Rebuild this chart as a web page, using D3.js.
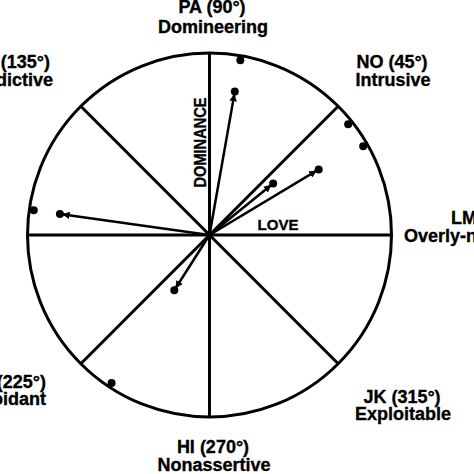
<!DOCTYPE html>
<html>
<head>
<meta charset="utf-8">
<script src="https://cdn.jsdelivr.net/npm/d3@7"></script>
<style>
  html, body { margin: 0; padding: 0; background: #fff; }
  svg { display: block; }
  text { font-family: "Liberation Sans", Arial, sans-serif; font-weight: bold; fill: #000; stroke: #000; stroke-width: 0.35px; }
</style>
</head>
<body>
<svg id="chart" width="474" height="474"></svg>
<script>
// ---- data ----
const octantCodes  = ["LM", "NO", "PA", "BC", "FG", "HI", "JK"];
const octantAngles = [0, 45, 90, 135, 225, 270, 315];
const octantNames  = ["Overly-nurturant", "Intrusive", "Domineering", "Vindictive", "Socially avoidant", "Nonassertive", "Exploitable"];

const divisionAngles = [0, 45, 90, 135, 180, 225, 270, 315];

// profile vectors (angle in degrees, amplitude as share of circle radius)
const vectorAngles     = [80, 31, 39, 172, 237.5];
const vectorAmplitudes = [0.80, 0.70, 0.45, 0.83, 0.36];
// projected angles shown on the rim
const rimAngles = [80, 30, 38.6, 172, 236.5];
const rimAmplitude = 0.975;

const axisLabels = ["DOMINANCE", "LOVE"];

// ---- layout ----
const svg = d3.select("#chart");
const cx = 209.5, cy = 235, R = 182;
const r = d3.scaleLinear().domain([0, 1]).range([0, R]);
const rad = d3.scaleLinear().domain([0, 360]).range([0, 2 * Math.PI]);
const px = (a, v) => cx + r(v) * Math.cos(rad(a));
const py = (a, v) => cy - r(v) * Math.sin(rad(a));

const defs = svg.append("defs");
defs.append("marker")
  .attr("id", "arrow")
  .attr("viewBox", "0 -5 10 10")
  .attr("refX", 13).attr("refY", 0)
  .attr("markerWidth", 3).attr("markerHeight", 3)
  .attr("markerUnits", "strokeWidth")
  .attr("orient", "auto")
  .append("path").attr("d", "M0,-5L10,0L0,5Z").attr("fill", "#000");

const g = svg.append("g");

// circle
g.append("circle").attr("cx", cx).attr("cy", cy).attr("r", r(1))
  .attr("fill", "none").attr("stroke", "#000").attr("stroke-width", 3);

// division lines
g.selectAll("line.div").data(divisionAngles).join("line")
  .attr("class", "div")
  .attr("x1", cx).attr("y1", cy)
  .attr("x2", d => px(d, 1)).attr("y2", d => py(d, 1))
  .attr("stroke", "#000").attr("stroke-width", 3);

// vectors
const vecs = vectorAngles.map((a, i) => ({ a, v: vectorAmplitudes[i] }));
g.selectAll("line.vec").data(vecs).join("line")
  .attr("class", "vec")
  .attr("x1", cx).attr("y1", cy)
  .attr("x2", d => px(d.a, d.v)).attr("y2", d => py(d.a, d.v))
  .attr("stroke", "#000").attr("stroke-width", 2.5)
  .attr("marker-end", "url(#arrow)");
g.selectAll("circle.tip").data(vecs).join("circle")
  .attr("class", "tip")
  .attr("cx", d => px(d.a, d.v)).attr("cy", d => py(d.a, d.v))
  .attr("r", 4).attr("fill", "#000");

// rim dots
g.selectAll("circle.rim").data(rimAngles).join("circle")
  .attr("class", "rim")
  .attr("cx", d => px(d, rimAmplitude)).attr("cy", d => py(d, rimAmplitude))
  .attr("r", 4).attr("fill", "#000");

// axis labels
svg.append("text")
  .attr("transform", `translate(206,142.5) rotate(-90)`)
  .attr("text-anchor", "middle")
  .attr("font-size", 17)
  .attr("textLength", 90).attr("lengthAdjust", "spacingAndGlyphs")
  .text(axisLabels[0]);
svg.append("text")
  .attr("x", 278).attr("y", 230)
  .attr("text-anchor", "middle")
  .attr("font-size", 15)
  .text(axisLabels[1]);

// octant labels (layout positions per label)
const labelLayout = {
  0:   { anchor: "start",  x1: 451, x2: 404, y1: 224, y2: 242 },
  45:  { anchor: "middle", x1: 392, x2: 393, y1: 68,  y2: 86 },
  90:  { anchor: "middle", x1: 212, x2: 213, y1: 13,  y2: 33 },
  135: { anchor: "end",    x1: 50,  x2: 53,  y1: 68,  y2: 86 },
  225: { anchor: "end",    x1: 46,  x2: 46,  y1: 388, y2: 405 },
  270: { anchor: "middle", x1: 213, x2: 214, y1: 453, y2: 471 },
  315: { anchor: "middle", x1: 402, x2: 403, y1: 403, y2: 420 }
};
octantCodes.forEach((code, i) => {
  const a = octantAngles[i];
  const L = labelLayout[a];
  svg.append("text")
    .attr("x", L.x1).attr("y", L.y1)
    .attr("text-anchor", L.anchor)
    .attr("font-size", 18)
    .text(`${code} (${a}°)`);
  svg.append("text")
    .attr("x", L.x2).attr("y", L.y2)
    .attr("text-anchor", L.anchor)
    .attr("font-size", 18)
    .text(octantNames[i]);
});
</script>
</body>
</html>
